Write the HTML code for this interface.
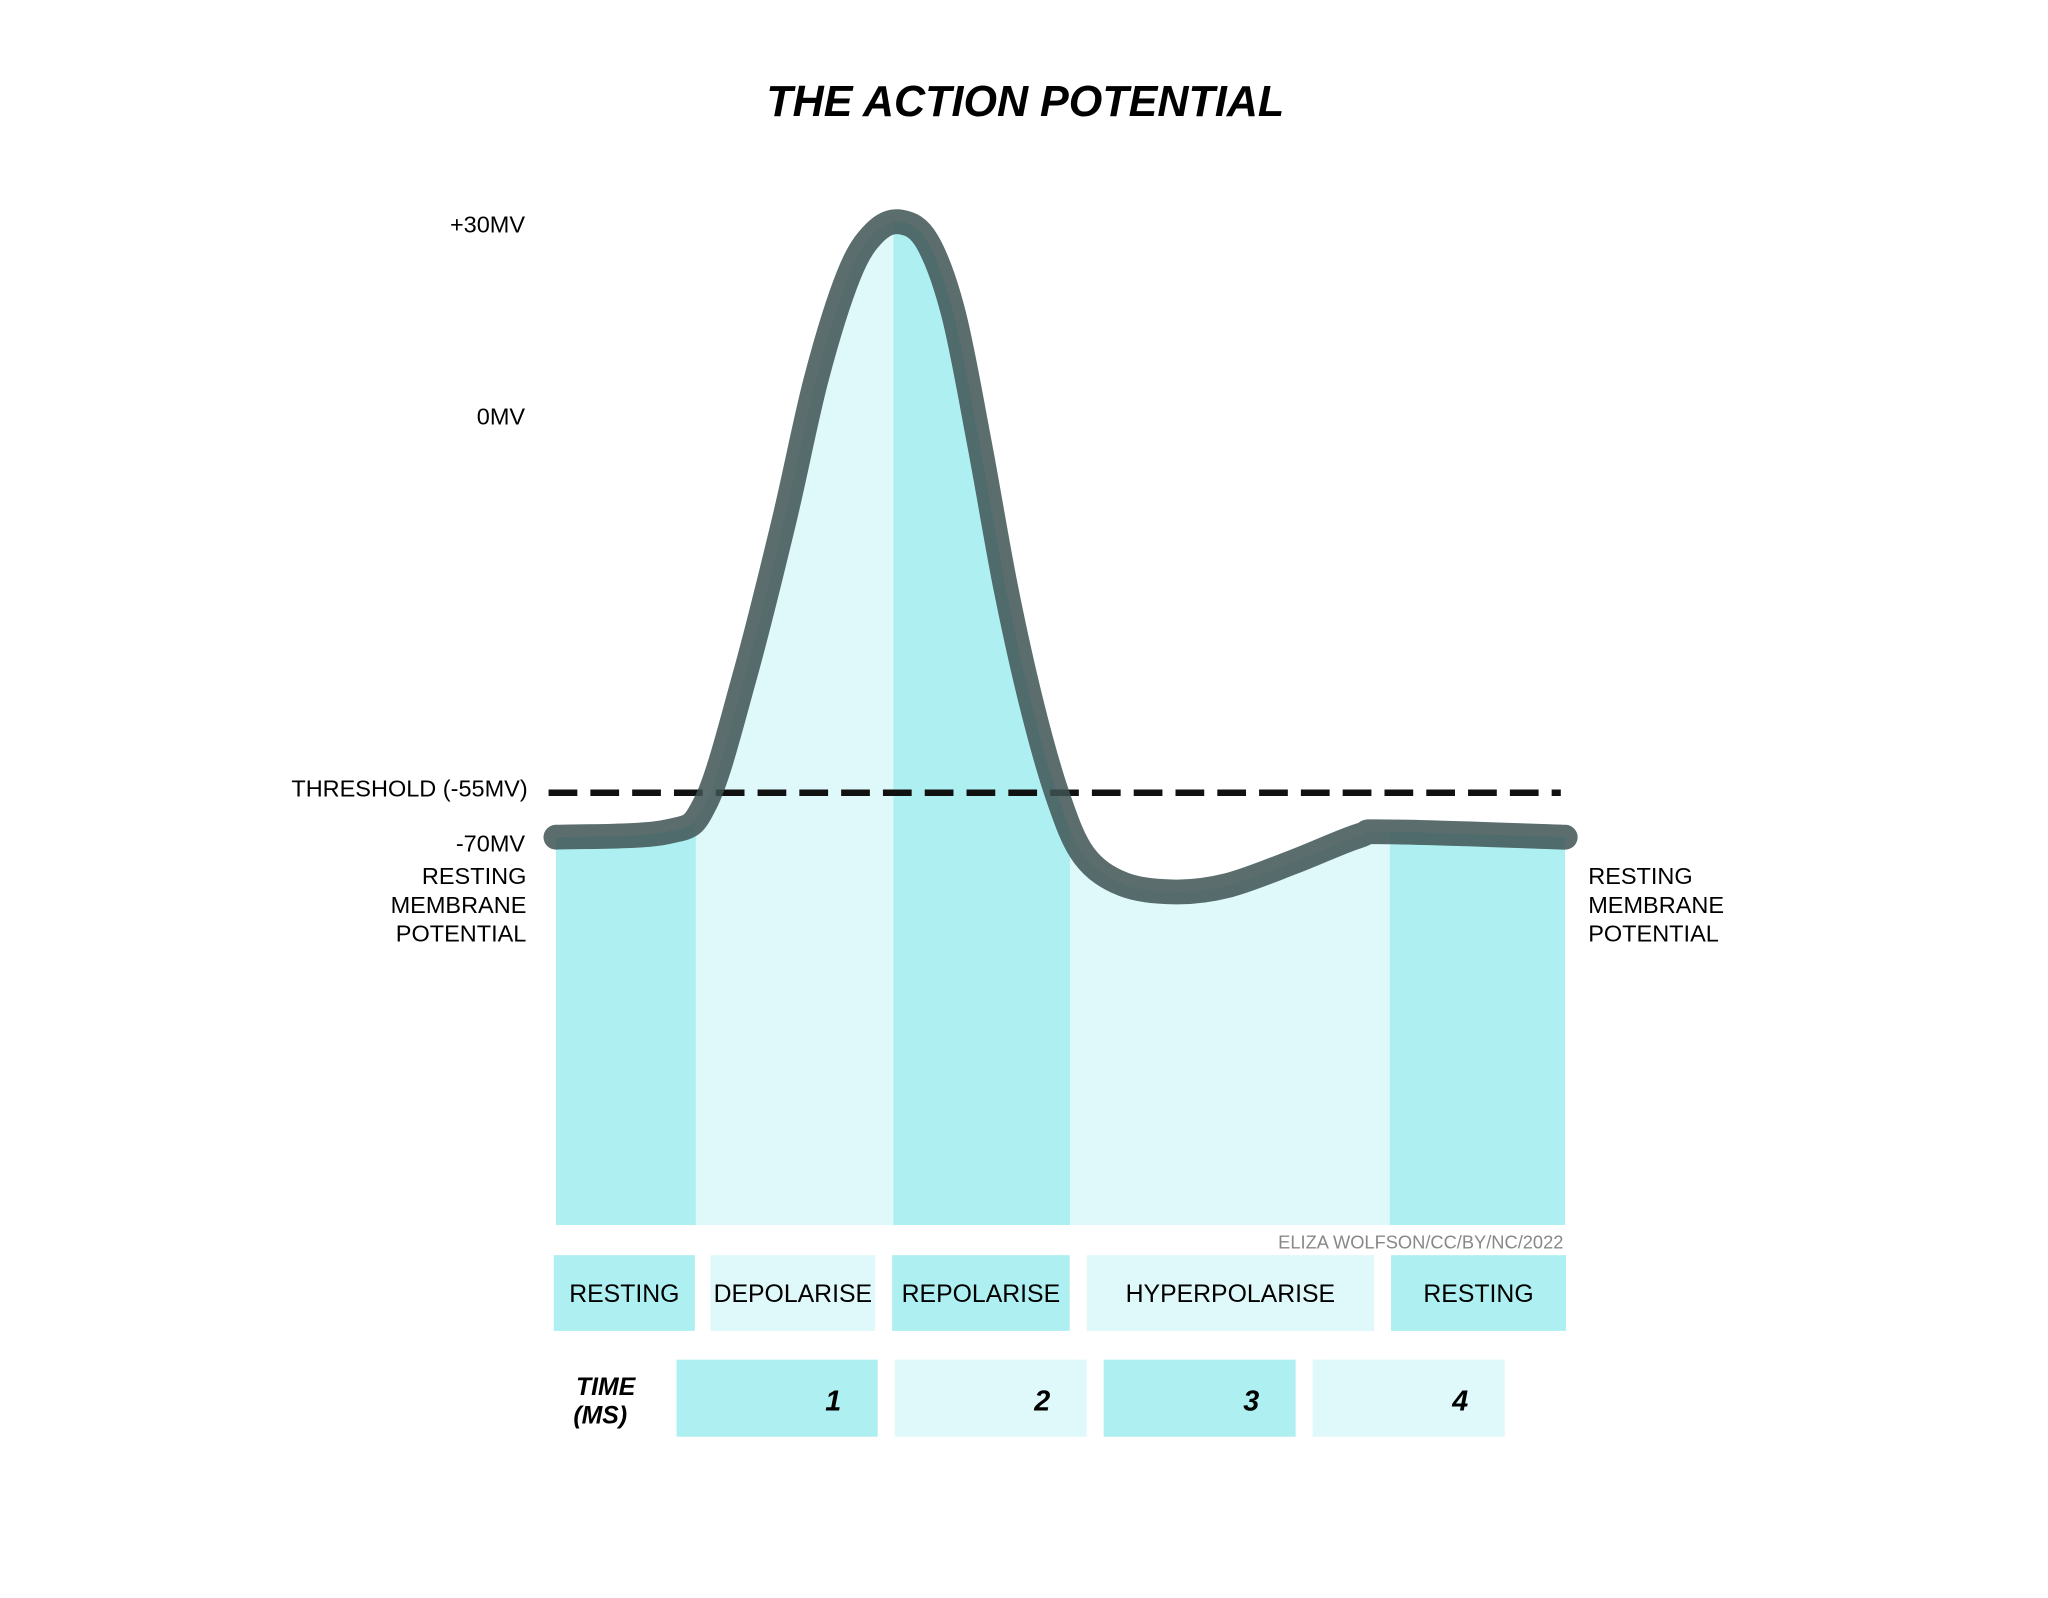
<!DOCTYPE html>
<html><head><meta charset="utf-8"><style>
html,body{margin:0;padding:0;background:#fff;}
svg{display:block;}
text{font-family:"Liberation Sans",sans-serif;}
</style></head><body>
<svg id="chart" width="2048" height="1598" viewBox="0 0 1568 1223.5" xmlns="http://www.w3.org/2000/svg">
<rect width="1568" height="1224" fill="#fff"/>
<text x="785" y="89" text-anchor="middle" font-size="33" font-weight="bold" font-style="italic">THE ACTION POTENTIAL</text>
<defs><clipPath id="under"><path id="underPath"/></clipPath></defs>
<g id="cols" clip-path="url(#under)"></g>
<line x1="420" y1="607" x2="1195" y2="607" stroke="#111" stroke-width="5" stroke-dasharray="22 10"/>
<path id="curve" fill="none" stroke="#3e5354" stroke-opacity="0.85" stroke-width="19" stroke-linecap="round" stroke-linejoin="round"/>
<g font-size="18" text-anchor="end">
<text x="402" y="178">+30MV</text>
<text x="402" y="325">0MV</text>
<text x="404" y="610">THRESHOLD (-55MV)</text>
<text x="402" y="652">-70MV</text>
<text x="403" y="677"><tspan x="403">RESTING</tspan><tspan x="403" dy="22">MEMBRANE</tspan><tspan x="403" dy="22">POTENTIAL</tspan></text>
</g>
<text font-size="18" x="1216" y="677"><tspan x="1216">RESTING</tspan><tspan x="1216" dy="22">MEMBRANE</tspan><tspan x="1216" dy="22">POTENTIAL</tspan></text>
<text x="1197" y="956" text-anchor="end" font-size="14" fill="#888">ELIZA WOLFSON/CC/BY/NC/2022</text>
<g id="phases"></g>
<g id="times"></g>
<text font-size="19" font-weight="bold" font-style="italic" x="441" y="1068"><tspan x="441">TIME</tspan><tspan x="439" dy="22">(MS)</tspan></text>
</svg>
<script>
const times=[-0.54,-0.01,0.175,0.36,0.55,0.706,0.8625,0.9875,1.1125,1.2375,1.3625,1.4875,1.6125,1.7375,1.8625,1.9875,2.175,2.425,2.675,2.9875,3.3,3.45,4.29];
const volts=[-70,-68.2,-58.5,-38.4,-15.6,5.7,22,28.6,30.2,27.1,15.9,-4.2,-25.1,-42.2,-56.3,-76.2,-85.9,-88.5,-86.3,-78.4,-69.6,-68.2,-70];
const phaseNames=["RESTING","DEPOLARISE","REPOLARISE","HYPERPOLARISE","RESTING"];
const phaseBounds=[-0.54,0.13,1.075,1.92,3.45,4.29];
const timeTicks=["1","2","3","4"];
const timeTickVals=[1,2,3,4];
const voltTicks=[30,0,-55,-70];
const voltPx=[171,318,607,641];
const boxLeft=[424,544,683,832,1065];
const boxRight=[532,670,819,1052,1199];
const DARK="#aef0f1",LIGHT="#dff8f9",NS="http://www.w3.org/2000/svg";
function xs(t){return 512+t*160;}
function ys(v){
  for(let i=0;i<voltTicks.length-1;i++){
    if(v>=voltTicks[i+1]||i===voltTicks.length-2){
      const a=voltTicks[i],b=voltTicks[i+1];
      return voltPx[i]+(v-a)/(b-a)*(voltPx[i+1]-voltPx[i]);
    }
  }
}
const pts=times.map((t,i)=>[xs(t),ys(volts[i])]);
function smooth(p){
  let d="M"+p[0][0]+","+p[0][1];
  for(let i=0;i<p.length-1;i++){
    const p0=p[i-1]||p[i],p1=p[i],p2=p[i+1],p3=p[i+2]||p2;
    d+=" C"+(p1[0]+(p2[0]-p0[0])/6)+","+(p1[1]+(p2[1]-p0[1])/6)+" "+(p2[0]-(p3[0]-p1[0])/6)+","+(p2[1]-(p3[1]-p1[1])/6)+" "+p2[0]+","+p2[1];
  }
  return d;
}
const cd=smooth(pts);
document.getElementById('curve').setAttribute('d',cd);
const last=pts[pts.length-1];
document.getElementById('underPath').setAttribute('d',cd+" L"+last[0]+",938 L"+pts[0][0]+",938 Z");
const cols=document.getElementById('cols');
for(let i=0;i<phaseNames.length;i++){
  const r=document.createElementNS(NS,'rect');
  
  
  const x0=xs(phaseBounds[i]),x1=xs(phaseBounds[i+1]);
  r.setAttribute('x',x0);r.setAttribute('y',100);r.setAttribute('width',x1-x0);r.setAttribute('height',838);
  r.setAttribute('fill',i%2?LIGHT:DARK);
  cols.appendChild(r);
}
const ph=document.getElementById('phases');
for(let i=0;i<phaseNames.length;i++){
  const x0=boxLeft[i],x1=boxRight[i];
  const r=document.createElementNS(NS,'rect');
  
  
  r.setAttribute('x',x0);r.setAttribute('y',961);r.setAttribute('width',x1-x0);r.setAttribute('height',58);
  r.setAttribute('fill',i%2?LIGHT:DARK);ph.appendChild(r);
  const t=document.createElementNS(NS,'text');
  
  
  t.setAttribute('x',(x0+x1)/2);t.setAttribute('y',997);t.setAttribute('text-anchor','middle');t.setAttribute('font-size','19');
  t.textContent=phaseNames[i];ph.appendChild(t);
}
const tg=document.getElementById('times');
for(let i=0;i<timeTicks.length;i++){
  const xr=xs(timeTickVals[i]);
  const x0=i===0?518:xs(timeTickVals[i-1])+13;
  const r=document.createElementNS(NS,'rect');
  
  
  r.setAttribute('x',x0);r.setAttribute('y',1041);r.setAttribute('width',xr-x0);r.setAttribute('height',59);
  r.setAttribute('fill',i%2?LIGHT:DARK);tg.appendChild(r);
  const t=document.createElementNS(NS,'text');
  
  
  t.setAttribute('x',xr-34);t.setAttribute('y',1080);t.setAttribute('text-anchor','middle');
  t.setAttribute('font-size','22');t.setAttribute('font-weight','bold');t.setAttribute('font-style','italic');
  t.textContent=timeTicks[i];tg.appendChild(t);
}
</script>
</body></html>
